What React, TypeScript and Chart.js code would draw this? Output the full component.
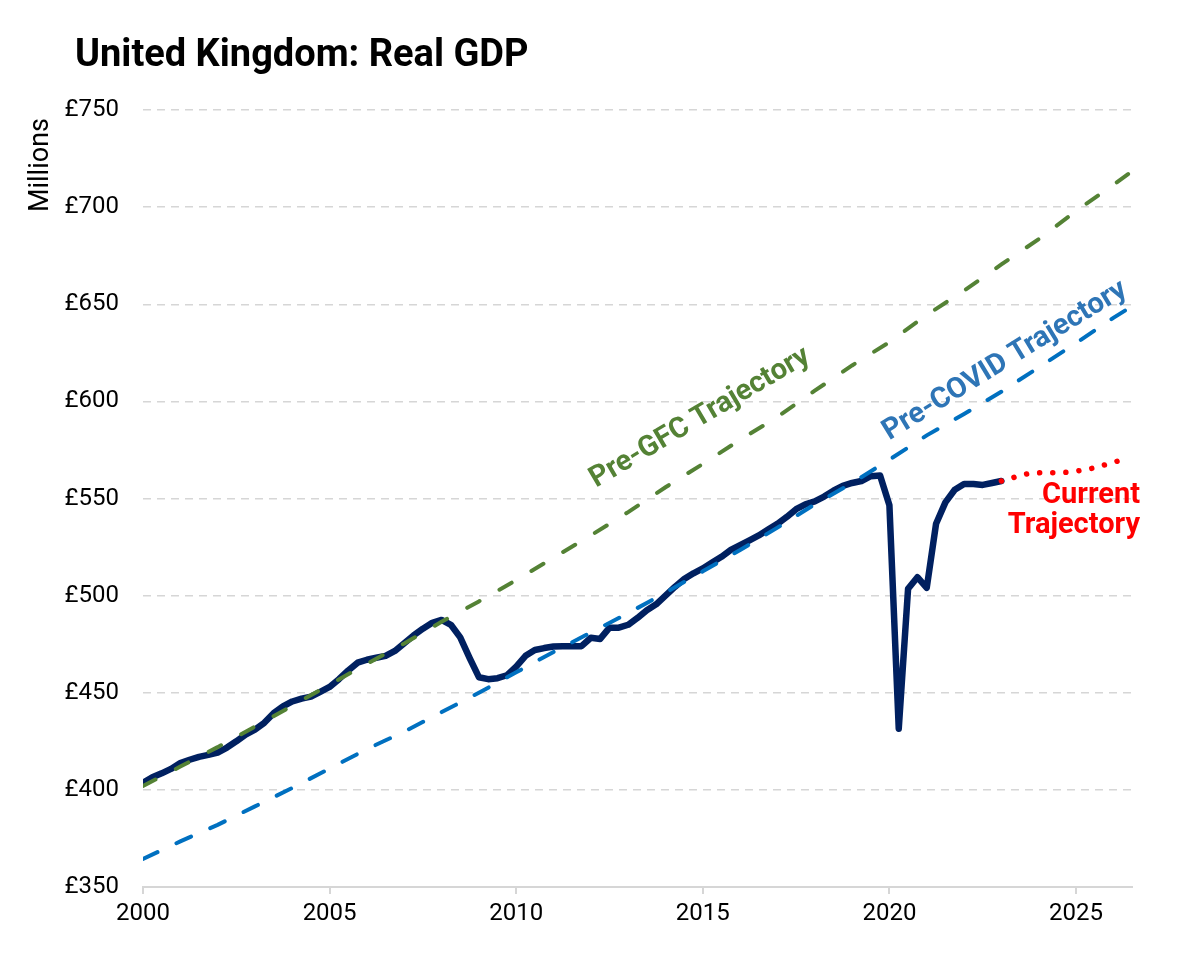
import React, { useEffect, useRef } from "react";
import Chart from "chart.js/auto";

// quarterly real GDP, 2000Q1 .. 2023Q1 (£bn shown as "Millions" on the source)
const gdpFirstYear = 2000;
const gdpValues = [
    403.6, 406.5, 408.5, 410.8,
    413.8, 415.5, 417.0, 418.0,
    419.2, 421.8, 425.0, 428.5,
    431.0, 434.5, 439.5, 443.0,
    445.5, 447.0, 448.0, 450.5,
    453.0, 457.0, 461.5, 465.5,
    467.0, 468.0, 469.0, 471.5,
    475.5, 479.5, 483.0, 486.0,
    487.5, 485.0, 478.5, 468.0,
    458.0, 457.0, 457.5, 459.0,
    463.5, 469.0, 472.0, 473.0,
    473.8, 474.0, 474.0, 474.0,
    478.3, 477.7, 483.5, 483.5,
    485.0, 488.5, 492.5, 495.5,
    500.0, 504.5, 508.5, 511.5,
    514.0, 517.0, 520.0, 523.5,
    526.0, 528.5, 531.0, 534.0,
    537.0, 540.5, 544.5, 547.0,
    548.5, 551.0, 554.0, 556.5,
    558.0, 559.0, 561.5, 561.8,
    546.5, 431.5, 503.5, 509.5,
    504.0, 537.0, 548.0, 554.5,
    557.5, 557.5, 557.0, 558.0,
    559.0,
];

const forecastYears = [2023, 2023.25, 2023.5, 2023.75, 2024, 2024.25, 2024.5, 2024.75, 2025, 2025.25, 2025.5, 2025.75, 2026, 2026.25];
const forecastValues = [559.0, 560.3, 561.9, 562.9, 563.2, 563.3, 563.3, 563.5, 564.1, 564.8, 565.8, 567.2, 568.6, 570.0];

const trendYears = [2000, 2001, 2002, 2003, 2004, 2005, 2006, 2007, 2008, 2009, 2010, 2011, 2012, 2013,
    2014, 2015, 2016, 2017, 2018, 2019, 2020, 2021, 2022, 2023, 2024, 2025, 2026, 2026.5];
const preGfcValues = [402.0, 412.0, 422.0, 432.6, 443.3, 454.2, 464.9, 475.4, 486.5, 497.0, 508.0, 519.5, 531.0, 543.0,
    555.8, 567.8, 580.2, 592.0, 605.5, 618.5, 630.5, 644.5, 657.0, 670.5, 683.5, 698.0, 711.5, 718.5];
const preCovidValues = [364.4, 373.5, 382.0, 391.5, 401.0, 411.0, 421.0, 430.0, 440.0, 450.0, 460.5, 471.0, 481.0, 491.0,
    501.5, 512.5, 523.5, 535.0, 547.0, 558.0, 570.0, 582.5, 593.5, 605.0, 617.5, 630.0, 643.0, 649.0];

const xTicks = [2000, 2005, 2010, 2015, 2020, 2025];

const FONT = "Roboto";

const drawRotated = (ctx: CanvasRenderingContext2D, text: string, px: number, py: number, deg: number, color: string) => {
    ctx.save();
    ctx.translate(px, py);
    ctx.rotate((deg * Math.PI) / 180);
    ctx.fillStyle = color;
    ctx.textAlign = "center";
    ctx.textBaseline = "middle";
    ctx.fillText(text, 0, 0);
    ctx.restore();
};

const labelsPlugin = {
    id: "labelsPlugin",
    afterDatasetsDraw(chart: any) {
        const { ctx } = chart;
        const x = chart.scales.x;
        const y = chart.scales.y;
        ctx.save();

        // title
        ctx.font = `bold 38px ${FONT}`;
        ctx.fillStyle = "#000";
        ctx.textAlign = "left";
        ctx.textBaseline = "alphabetic";
        ctx.fillText("United Kingdom: Real GDP", 75, 66);

        // y axis unit, sitting at the top of the axis
        ctx.save();
        ctx.font = `27px ${FONT}`;
        ctx.translate(41, chart.chartArea.top + 8);
        ctx.rotate(-Math.PI / 2);
        ctx.textAlign = "right";
        ctx.textBaseline = "middle";
        ctx.fillText("Millions", 0, 0);
        ctx.restore();

        // trajectory labels
        ctx.font = `bold 29px ${FONT}`;
        drawRotated(ctx, "Pre-GFC Trajectory", x.getPixelForValue(2014.93), y.getPixelForValue(591.5), -30.5, "#548235");
        drawRotated(ctx, "Pre-COVID Trajectory", x.getPixelForValue(2023.1), y.getPixelForValue(620.8), -31.5, "#2E75B6");

        // current trajectory
        ctx.fillStyle = "#FF0000";
        ctx.textAlign = "right";
        ctx.textBaseline = "alphabetic";
        const rx = chart.chartArea.right + 8;
        ctx.fillText("Current", rx, y.getPixelForValue(547.6));
        ctx.fillText("Trajectory", rx, y.getPixelForValue(532.0));
        ctx.restore();
    },
};

const App = () => {
    const canvasRef = useRef<HTMLCanvasElement | null>(null);

    useEffect(() => {
        document.body.style.margin = "0";
        const ctx = canvasRef.current?.getContext("2d");
        if (!ctx) return;

        Chart.defaults.font.family = FONT;
        Chart.defaults.color = "#000";

        const chart = new Chart(ctx, {
            type: "line",
            data: {
                datasets: [
                    {
                        label: "Pre-GFC Trajectory",
                        data: trendYears.map((yr, i) => ({ x: yr, y: preGfcValues[i] })),
                        borderColor: "#548235",
                        borderWidth: 4,
                        borderDash: [14, 23],
                        borderCapStyle: "round",
                        pointRadius: 0,
                    },
                    {
                        label: "Pre-COVID Trajectory",
                        data: trendYears.map((yr, i) => ({ x: yr, y: preCovidValues[i] })),
                        borderColor: "#0070C0",
                        borderWidth: 4,
                        borderDash: [16, 21],
                        borderCapStyle: "round",
                        pointRadius: 0,
                    },
                    {
                        label: "Current Trajectory",
                        data: forecastYears.map((yr, i) => ({ x: yr, y: forecastValues[i] })),
                        borderColor: "#FF0000",
                        borderWidth: 5.5,
                        borderDash: [0.01, 13.1],
                        borderCapStyle: "round",
                        pointRadius: 0,
                    },
                    {
                        label: "Real GDP",
                        data: gdpValues.map((v, i) => ({ x: gdpFirstYear + i / 4, y: v })),
                        borderColor: "#002060",
                        borderWidth: 6.5,
                        borderJoinStyle: "round",
                        borderCapStyle: "round",
                        pointRadius: 0,
                    },
                ],
            },
            options: {
                animation: false,
                responsive: true,
                maintainAspectRatio: false,
                layout: { padding: { top: 110, right: 68, bottom: 46, left: 22 } },
                plugins: {
                    legend: { display: false },
                    tooltip: { enabled: false },
                    title: { display: false },
                },
                elements: { line: { tension: 0 } },
                scales: {
                    x: {
                        type: "linear",
                        min: 2000,
                        max: 2026.5,
                        afterFit: (scale: any) => { scale.height = 40; },
                        afterBuildTicks: (scale: any) => { scale.ticks = xTicks.map((v) => ({ value: v })); },
                        ticks: {
                            callback: (v: any) => String(v),
                            font: { size: 24 },
                            color: "#000",
                            padding: 6,
                            maxRotation: 0,
                        },
                        grid: {
                            display: true,
                            drawOnChartArea: false,
                            drawTicks: true,
                            tickLength: 7,
                            color: "#d6d6d6",
                            lineWidth: 2,
                        },
                        border: { display: true, color: "#d6d6d6", width: 2 },
                    },
                    y: {
                        min: 350,
                        max: 750,
                        afterFit: (scale: any) => { scale.width = 121; },
                        ticks: {
                            stepSize: 50,
                            callback: (v: any) => "£" + v,
                            font: { size: 24 },
                            color: "#000",
                            padding: 24,
                        },
                        grid: { color: "#d6d6d6", lineWidth: 1.5, drawTicks: false },
                        border: { display: false, dash: [8, 6] },
                    },
                },
            },
            plugins: [labelsPlugin],
        } as any);

        return () => {
            chart.destroy();
        };
    }, []);

    return (
        <div style={{ position: "relative", width: 1200, height: 973, background: "#fff" }}>
            <canvas ref={canvasRef} />
        </div>
    );
};

export default App;
